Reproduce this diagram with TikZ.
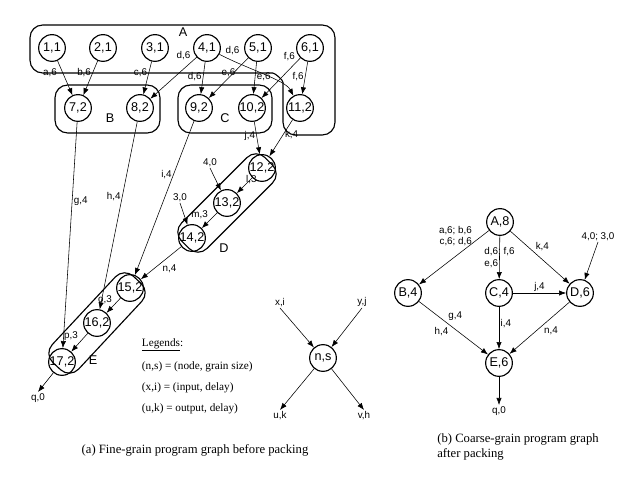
\documentclass[tikz,border=0pt]{standalone}
\usepackage{fontspec}
\setmainfont{Liberation Sans}
\newfontfamily\capfont{Liberation Serif}
\usetikzlibrary{arrows.meta}
\begin{document}
\begin{tikzpicture}[x=0.025cm,y=-0.025cm,
  task/.style={circle,draw,thick,minimum size=19pt,inner sep=0pt,font=\small},
  edge/.style={-{Latex[length=5pt]}},
  lbl/.style={font=\scriptsize,inner sep=1pt},
  grp/.style={draw,thick,rounded corners=9pt}]
\useasboundingbox (0,0) rectangle (638,478);
% task nodes, fine grain
\foreach \n/\x/\y in {1/52/48,2/103/48,3/155/48,4/207/48,5/258/48,6/310/48,
  7/78/108,8/140/108,9/199/108,10/252/108,11/300/108,
  12/262/168,13/227/203,14/192/238,15/130/288,16/97/323,17/62/362}
  \node[task] (n\n) at (\x,\y) {\n,\ifnum\n<7 1\else 2\fi};
% clusters
\draw[grp] (30,25) -- (335,25) -- (335,135) -- (283,135) -- (283,95)
  .. controls (283,80) and (275,73) .. (260,73) -- (30,73) -- cycle;
\node[font=\small] at (183,32) {A};
\draw[grp] (55,85) rectangle (160,133);
\node[font=\small] at (110,118) {B};
\draw[grp] (178,85) rectangle (272,133);
\node[font=\small] at (225,118) {C};
\draw[grp,rotate around={45:(227,203)}] (168,185) rectangle (286,221);
\node[font=\small] at (224,248) {D};
\draw[grp,rotate around={47:(97,323)}] (38,305) rectangle (156,341);
\node[font=\small] at (93,360) {E};
% edges from A
\draw[edge] (n1) -- (n7) node[lbl,pos=.35,left=3pt] {a,6};
\draw[edge] (n2) -- (n7) node[lbl,pos=.35,left] {b,6};
\draw[edge] (n3) -- (n8) node[lbl,pos=.35,left] {c,6};
\draw[edge] (n4) -- (n8) node[lbl,pos=.1,above left] {d,6};
\draw[edge] (n4) -- (n9) node[lbl,pos=.45,left] {d,6};
\draw[edge] (n4) .. controls (250,70) and (285,80) .. (n11) node[lbl,pos=.05,above right] {d,6};
\draw[edge] (n5) -- (n9) node[lbl,pos=.5,above] {e,6};
\draw[edge] (n5) -- (n10) node[lbl,pos=.45,right] {e,6};
\draw[edge] (n6) -- (n10) node[lbl,pos=.1,above left] {f,6};
\draw[edge] (n6) -- (n11) node[lbl,pos=.45,left] {f,6};
% edges to D and E
\draw[edge] (n7) -- (n17) node[lbl,pos=.35,right] {g,4};
\draw[edge] (n8) -- (n16) node[lbl,pos=.4,left] {h,4};
\draw[edge] (n9) -- (n15) node[lbl,pos=.35,left] {i,4};
\draw[edge] (n10) -- (n12) node[lbl,pos=.45,left] {j,4};
\draw[edge] (n11) -- (n12) node[lbl,pos=.4,right] {k,4};
\draw[edge] (n12) -- (n13) node[lbl,pos=.5,above right] {l,3};
\draw[edge] (n13) -- (n14) node[lbl,pos=.5,above left] {m,3};
\draw[edge] (n14) -- (n15) node[lbl,pos=.5,below right] {n,4};
\draw[edge] (n15) -- (n16) node[lbl,pos=.5,above left] {o,3};
\draw[edge] (n16) -- (n17) node[lbl,pos=.5,above left] {p,3};
\coordinate (in4) at (210,168);
\coordinate (in3) at (180,203);
\coordinate (q1) at (38,392);
\node[lbl,above] at (in4) {4,0};
\node[lbl,above] at (in3) {3,0};
\node[lbl,below] at (q1) {q,0};
\draw[edge] (in4) -- (n13);
\draw[edge] (in3) -- (n14);
\draw[edge] (n17) -- (q1);
% legend
\node[task] (ns) at (323,358) {n,s};
\coordinate (xi) at (280,308);
\coordinate (yj) at (362,308);
\coordinate (uk) at (280,410);
\coordinate (vh) at (364,410);
\node[lbl,above] at (xi) {x,i};
\node[lbl,above] at (yj) {y,j};
\node[lbl,below] at (uk) {u,k};
\node[lbl,below] at (vh) {v,h};
\draw[edge] (xi) -- (ns);
\draw[edge] (yj) -- (ns);
\draw[edge] (ns) -- (uk);
\draw[edge] (ns) -- (vh);
\node[font=\capfont\footnotesize,anchor=west] (leg) at (137,345) {\underline{Legends}:};
\node[font=\capfont\footnotesize,anchor=west] (leg1) at (137,367) {(n,s) = (node, grain size)};
\node[font=\capfont\footnotesize,anchor=west] (leg2) at (137,388) {(x,i) = (input, delay)};
\node[font=\capfont\footnotesize,anchor=west] (leg3) at (137,409) {(u,k) = output, delay)};
% coarse grain graph
\node[task] (A) at (500,222) {A,8};
\node[task] (B) at (408,293) {B,4};
\node[task] (C) at (499,293) {C,4};
\node[task] (D) at (580,293) {D,6};
\node[task] (E) at (499,363) {E,6};
\coordinate (q2) at (499,405);
\coordinate (in43) at (598,242);
\node[lbl,below] at (q2) {q,0};
\node[lbl,above] at (in43) {4,0; 3,0};
\draw[edge] (A) -- (B) node[lbl,pos=.1,left=6pt,align=right] {a,6; b,6\\c,6; d,6};
\draw[edge] (A) -- (C) node[lbl,pos=.5,align=left] {d,6; f,6\\e,6\phantom{; f,6}};
\draw[edge] (A) -- (D) node[lbl,pos=.4,above right] {k,4};
\draw[edge] (C) -- (D) node[lbl,pos=.5,above] {j,4};
\draw[edge] (B) -- (E) node[lbl,pos=.4,above right] {g,4} node[lbl,pos=.45,below left] {h,4};
\draw[edge] (C) -- (E) node[lbl,pos=.4,right] {i,4};
\draw[edge] (D) -- (E) node[lbl,pos=.45,below right] {n,4};
\draw[edge] (E) -- (q2);
\draw[edge] (in43) -- (D);
% captions
\node[font=\capfont\small] (capa) at (195,450) {(a) Fine-grain program graph before packing};
\node[font=\capfont\small,align=left] (capb) at (518,447) {(b) Coarse-grain program graph\\after packing};
\end{tikzpicture}
\end{document}
